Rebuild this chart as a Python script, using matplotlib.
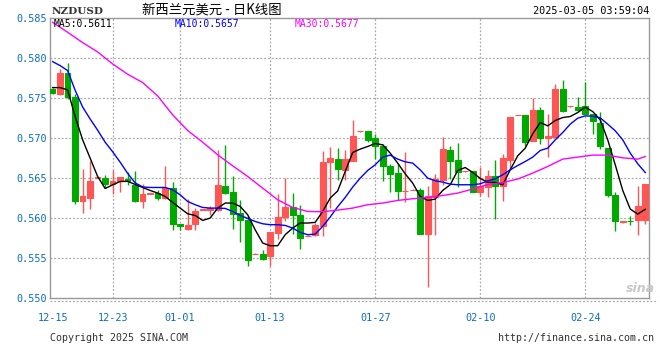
import numpy as np
import matplotlib
matplotlib.use("Agg")
import matplotlib.pyplot as plt
from matplotlib.lines import Line2D

# daily candles 12-15 .. 03-04 (one per calendar day)
opens = [0.57617, 0.57554, 0.57817, 0.57521, 0.56208, 0.56246, 0.56500, 0.56504, 0.56421, 0.56463,
         0.56492, 0.56408, 0.56208, 0.56306, 0.56313, 0.56250, 0.56379, 0.55921, 0.55858, 0.55925,
         0.56102, 0.56104, 0.56096, 0.56404, 0.56329, 0.56063, 0.55979, 0.55550, 0.55554, 0.55520,
         0.55808, 0.56008, 0.56142, 0.56042, 0.55775, 0.55783, 0.55896, 0.56696, 0.56742, 0.56596,
         0.56717, 0.57085, 0.57088, 0.57000, 0.56908, 0.56654, 0.56567, 0.56335, 0.56350, 0.56354,
         0.55804, 0.56263, 0.56479, 0.56854, 0.56729, 0.56585, 0.56592, 0.56321, 0.56388, 0.56529,
         0.56396, 0.56733, 0.57288, 0.57292, 0.56967, 0.57350, 0.57000, 0.57017, 0.57617, 0.57400,
         0.57396, 0.57400, 0.57308, 0.57196, 0.56883, 0.56292, 0.55955, 0.55962, 0.55971, 0.55971]
closes = [0.57563, 0.57817, 0.57521, 0.56208, 0.56279, 0.56467, 0.56508, 0.56421, 0.56463, 0.56517,
          0.56463, 0.56208, 0.56304, 0.56315, 0.56246, 0.56379, 0.55921, 0.55900, 0.55913, 0.56092,
          0.56108, 0.56125, 0.56417, 0.56313, 0.56054, 0.55971, 0.55471, 0.55554, 0.55483, 0.55821,
          0.56017, 0.56142, 0.56033, 0.55746, 0.55780, 0.55917, 0.56704, 0.56754, 0.56617, 0.56742,
          0.57029, 0.57088, 0.56971, 0.56908, 0.56646, 0.56554, 0.56333, 0.56338, 0.56354, 0.55804,
          0.56279, 0.56492, 0.56867, 0.56717, 0.56571, 0.56588, 0.56321, 0.56404, 0.56529, 0.56396,
          0.56754, 0.57267, 0.57292, 0.56958, 0.57350, 0.57000, 0.57029, 0.57617, 0.57346, 0.57404,
          0.57358, 0.57308, 0.57220, 0.56900, 0.56292, 0.55958, 0.55958, 0.55958, 0.56154, 0.56429]
highs = [0.57625, 0.57863, 0.57946, 0.57554, 0.56617, 0.56717, 0.56512, 0.56533, 0.56604, 0.56520,
         0.56571, 0.56592, 0.56429, 0.56320, 0.56354, 0.56646, 0.56454, 0.55925, 0.56238, 0.56120,
         0.56112, 0.56146, 0.56846, 0.56917, 0.56529, 0.56230, 0.56021, 0.55558, 0.55604, 0.55825,
         0.56304, 0.56504, 0.56317, 0.56167, 0.55785, 0.55940, 0.56842, 0.56892, 0.56879, 0.56854,
         0.57229, 0.57092, 0.57090, 0.57054, 0.56930, 0.56680, 0.56680, 0.56833, 0.56358, 0.56380,
         0.56404, 0.56546, 0.57017, 0.56904, 0.56942, 0.56592, 0.56592, 0.56642, 0.56604, 0.56721,
         0.56796, 0.57270, 0.57296, 0.57292, 0.57500, 0.57392, 0.57308, 0.57679, 0.57729, 0.57408,
         0.57517, 0.57704, 0.57308, 0.57325, 0.56883, 0.56330, 0.55960, 0.56021, 0.56404, 0.56429]
lows = [0.57550, 0.57542, 0.57488, 0.56179, 0.56058, 0.56108, 0.56500, 0.56371, 0.56296, 0.56321,
        0.56408, 0.56196, 0.56121, 0.56300, 0.56229, 0.56238, 0.55854, 0.55846, 0.55846, 0.55854,
        0.56098, 0.56042, 0.56092, 0.56304, 0.55867, 0.55696, 0.55396, 0.55546, 0.55480, 0.55396,
        0.55733, 0.55958, 0.55796, 0.55608, 0.55770, 0.55770, 0.55771, 0.56125, 0.56471, 0.56471,
        0.56710, 0.57080, 0.56946, 0.56742, 0.56458, 0.56321, 0.56221, 0.56196, 0.56346, 0.55800,
        0.55133, 0.55792, 0.56417, 0.56488, 0.56388, 0.56580, 0.56321, 0.56271, 0.56267, 0.55988,
        0.56208, 0.56604, 0.57284, 0.56896, 0.56967, 0.56925, 0.56763, 0.57017, 0.57325, 0.57396,
        0.57346, 0.57308, 0.57050, 0.56867, 0.56267, 0.55833, 0.55933, 0.55917, 0.55783, 0.55930]

ma5 = [0.57633, 0.57633, 0.57604, 0.57271, 0.56979, 0.56750, 0.56521, 0.56370, 0.56416, 0.56458,
       0.56460, 0.56421, 0.56383, 0.56346, 0.56313, 0.56271, 0.56196, 0.56125, 0.56054, 0.56033,
       0.55971, 0.56000, 0.56125, 0.56188, 0.56188, 0.56146, 0.56042, 0.55854, 0.55688, 0.55654,
       0.55654, 0.55792, 0.55875, 0.55938, 0.55938, 0.55946, 0.56083, 0.56250, 0.56340, 0.56583,
       0.56821, 0.56863, 0.56896, 0.56933, 0.56917, 0.56813, 0.56688, 0.56554, 0.56438, 0.56271,
       0.56221, 0.56238, 0.56346, 0.56417, 0.56596, 0.56633, 0.56571, 0.56496, 0.56448, 0.56446,
       0.56417, 0.56604, 0.56779, 0.56875, 0.57054, 0.57196, 0.57154, 0.57221, 0.57258, 0.57271,
       0.57321, 0.57388, 0.57333, 0.57229, 0.56979, 0.56667, 0.56346, 0.56113, 0.56050, 0.56110]
ma10 = [0.57958, 0.57908, 0.57846, 0.57600, 0.57390, 0.57240, 0.57100, 0.56950, 0.56830, 0.56700,
        0.56560, 0.56440, 0.56390, 0.56383, 0.56383, 0.56383, 0.56354, 0.56292, 0.56208, 0.56167,
        0.56133, 0.56125, 0.56125, 0.56121, 0.56083, 0.56033, 0.55996, 0.55958, 0.55929, 0.55917,
        0.55917, 0.55908, 0.55875, 0.55821, 0.55792, 0.55800, 0.55896, 0.56013, 0.56142, 0.56258,
        0.56388, 0.56500, 0.56596, 0.56667, 0.56763, 0.56788, 0.56738, 0.56704, 0.56688, 0.56604,
        0.56500, 0.56467, 0.56450, 0.56425, 0.56417, 0.56417, 0.56417, 0.56429, 0.56465, 0.56492,
        0.56542, 0.56604, 0.56658, 0.56708, 0.56763, 0.56846, 0.56875, 0.56979, 0.57071, 0.57175,
        0.57250, 0.57279, 0.57275, 0.57254, 0.57175, 0.57092, 0.56979, 0.56813, 0.56680, 0.56570]
ma30_days = [0, 2, 4, 6, 8, 10, 12, 14, 16, 18, 20, 22, 24, 26, 28, 30, 32, 34, 36, 38,
             40, 42, 44, 46, 48, 50, 52, 54, 56, 58, 60, 62, 64, 66, 68, 70, 72, 74, 76, 78, 79]
ma30 = [0.58450, 0.58325, 0.58196, 0.58079, 0.57929, 0.57800, 0.57696, 0.57529, 0.57292, 0.57096,
        0.56950, 0.56792, 0.56654, 0.56521, 0.56375, 0.56229, 0.56133, 0.56083, 0.56079, 0.56100,
        0.56125, 0.56167, 0.56188, 0.56221, 0.56242, 0.56258, 0.56283, 0.56313, 0.56363, 0.56420,
        0.56446, 0.56488, 0.56563, 0.56646, 0.56738, 0.56763, 0.56788, 0.56788, 0.56754, 0.56738, 0.56770]

date_ticks = [0, 8, 17, 29, 43, 57, 71]
date_labels = ["12-15", "12-23", "01-01", "01-13", "01-27", "02-10", "02-24"]
price_ticks = [0.550, 0.555, 0.560, 0.565, 0.570, 0.575, 0.580, 0.585]

RED = "#ff5555"
GREEN = "#00a800"
BLUE_TXT = "#0a6fc2"
MONO = "DejaVu Sans Mono"

fig = plt.figure(figsize=(6.6, 3.6), dpi=100)
ax = fig.add_axes([50 / 660, 62 / 360, 599 / 660, 279.7 / 360])

days = np.arange(len(opens))
o = np.array(opens)
c = np.array(closes)
up = c >= o
cols = np.where(up, RED, GREEN)

ax.vlines(days, lows, highs, colors=cols, linewidth=1, zorder=2)
ax.bar(days, c - o, bottom=o, width=0.76, color=cols, edgecolor=cols,
       linewidth=0.8, zorder=3)

ax.plot(days, ma5, color="black", lw=1, zorder=4)
ax.plot(days, ma10, color="#0000ff", lw=1, zorder=4)
ax.plot(ma30_days, ma30, color="#ff00ff", lw=1, zorder=4)

ax.set_xlim(-0.35, 79.5)
ax.set_ylim(0.550, 0.585)
ax.set_yticks(price_ticks)
ax.set_yticklabels(["%.3f" % p for p in price_ticks], fontfamily=MONO,
                   fontsize=7.3, color=BLUE_TXT)
ax.set_xticks(date_ticks)
ax.set_xticklabels(date_labels, fontfamily=MONO, fontsize=7.3, color=BLUE_TXT)
ax.tick_params(axis="y", length=0, pad=2.5)
ax.tick_params(axis="x", length=0, pad=11)

# dotted grid (skip the lines lying on the frame)
for p in price_ticks[1:-1]:
    ax.axhline(p, color="#aaaaaa", lw=0.9, ls=(0, (1.5, 1.5)), zorder=1)
for d in date_ticks[1:]:
    ax.axvline(d, color="#aaaaaa", lw=0.9, ls=(0, (1.5, 1.5)), zorder=1)

for s in ax.spines.values():
    s.set_color("#999999")
    s.set_linewidth(1)

fig.add_artist(Line2D([50 / 660, 656 / 660], [1 - 300.5 / 360] * 2,
                      color="#aaaaaa", lw=0.9, ls=(0, (1.5, 1.5))))

# header texts
fig.text(52 / 660, 1 - 11.5 / 360, "NZDUSD", fontfamily="DejaVu Serif",
         fontsize=7.5, fontweight="bold", color="#333333", va="center")
fig.text(212 / 660, 1 - 10 / 360, "新西兰元美元 - 日K线图",
         fontfamily=["Noto Sans CJK SC", "DejaVu Sans"], fontsize=9.6,
         color="black", ha="center", va="center")
fig.text(649 / 660, 1 - 11.5 / 360, "2025-03-05 03:59:04", fontfamily=MONO,
         fontsize=7.3, color="black", ha="right", va="center")
fig.text(54 / 660, 1 - 24 / 360, "MA5:0.5611", fontfamily=MONO, fontsize=7,
         color="black", va="center")
fig.text(175 / 660, 1 - 24 / 360, "MA10:0.5657", fontfamily=MONO, fontsize=7,
         color="#0000ff", va="center")
fig.text(295 / 660, 1 - 24 / 360, "MA30:0.5677", fontfamily=MONO, fontsize=7,
         color="#ff00ff", va="center")

# footer
fig.text(50 / 660, 1 - 338 / 360, "Copyright 2025 SINA.COM", fontfamily=MONO,
         fontsize=7.2, color="#333333", va="center")
fig.text(654 / 660, 1 - 338 / 360, "http://finance.sina.com.cn", fontfamily=MONO,
         fontsize=7.2, color="#333333", ha="right", va="center")
fig.text(640 / 660, 1 - 289 / 360, "sina", fontsize=9, fontstyle="italic",
         fontweight="bold", color="#c8c8c8", ha="center", va="center")

fig.savefig("out.png", dpi=100)
